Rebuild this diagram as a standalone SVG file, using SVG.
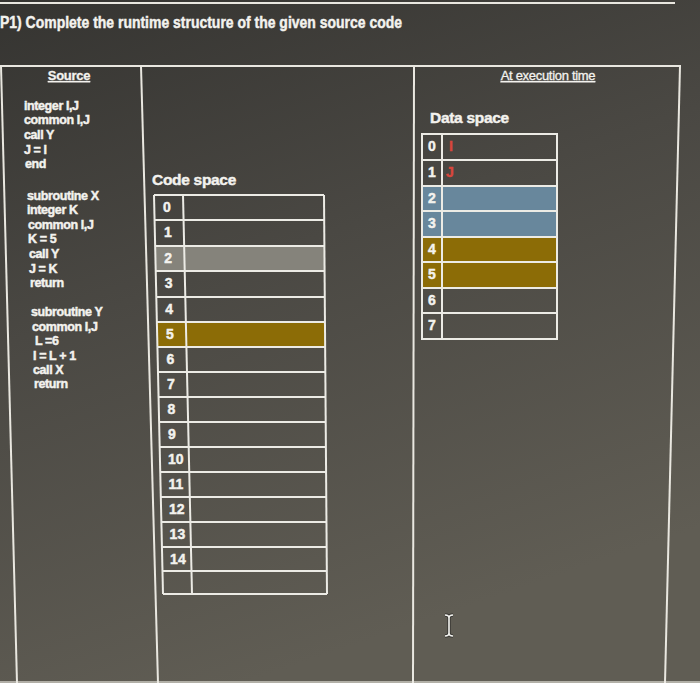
<svg xmlns="http://www.w3.org/2000/svg" width="700" height="683" viewBox="0 0 700 683">
  <defs>
    <linearGradient id="bg" x1="0" y1="0" x2="0.35" y2="1">
      <stop offset="0" stop-color="#353431"/>
      <stop offset="0.45" stop-color="#4a4843"/>
      <stop offset="1" stop-color="#605d54"/>
    </linearGradient>
    <style>
      .ln { stroke:#e9e7e0; stroke-width:2; fill:none; }
      .tl { stroke:#ecebe5; stroke-width:2; fill:none; }
      .t { font-family:"Liberation Sans", Arial, sans-serif; fill:#f3f2ee; stroke:#f3f2ee; stroke-width:0.45px; }
      .src { font-size:12.5px; font-weight:bold; letter-spacing:-0.4px; }
      .num { font-size:14px; font-weight:bold; }
      .hd { font-size:15.5px; font-weight:bold; letter-spacing:-0.3px; }
      .ul { font-size:13px; text-decoration:underline; stroke-width:0.3px; }
      .red { fill:#d8463c; stroke:#d8463c; font-size:14px; font-weight:bold; }
    </style>
  </defs>

  <rect width="700" height="683" fill="url(#bg)"/>

  <g id="title">
    <line class="ln" x1="0" y1="3" x2="675" y2="3"/>
    <text class="t" x="0" y="28" font-size="16.5" font-weight="bold" textLength="402" lengthAdjust="spacingAndGlyphs">P1) Complete the runtime structure of the given source code</text>
  </g>

  <g id="frame">
    <line class="ln" x1="0" y1="66" x2="681" y2="66"/>
    <line class="ln" x1="1" y1="66" x2="17" y2="683"/>
    <line class="ln" x1="141" y1="66" x2="158" y2="683"/>
    <line class="ln" x1="414" y1="66" x2="413" y2="683"/>
    <line class="ln" x1="680" y1="66" x2="665" y2="683"/>
    <line class="ln" x1="0" y1="682" x2="700" y2="682" stroke-opacity="0.6"/>
  </g>

  <g id="source">
    <text class="t ul" x="69" y="80" text-anchor="middle" font-weight="bold" font-size="12.5" letter-spacing="-0.3">Source</text>
    <g class="t src">
      <text x="24" y="110">integer I,J</text>
      <text x="24" y="124">common I,J</text>
      <text x="24" y="139">call Y</text>
      <text x="24" y="154">J = I</text>
      <text x="25" y="168">end</text>
      <text x="27" y="200">subroutine X</text>
      <text x="27" y="214">integer  K</text>
      <text x="28" y="229">common I,J</text>
      <text x="28" y="243">K = 5</text>
      <text x="29" y="258">call Y</text>
      <text x="29" y="273">J =  K</text>
      <text x="30" y="287">return</text>
      <text x="31" y="316">subroutine Y</text>
      <text x="32" y="331">common I,J</text>
      <text x="35" y="345">L  =6</text>
      <text x="33" y="360">I = L + 1</text>
      <text x="33" y="374">call X</text>
      <text x="34" y="388">return</text>
    </g>
  </g>

  <g id="code-space">
    <text class="t hd" x="152" y="185">Code space</text>
    <polygon points="155.2,246 324.4,246 324.6,271 155.7,271" fill="#85837b"/>
    <polygon points="156.9,322 325,322 325.1,347 157.4,347" fill="#8c6c06"/>
    <g class="tl">
      <line x1="154" y1="195" x2="163" y2="594"/>
      <line x1="183" y1="195" x2="192" y2="594"/>
      <line x1="324" y1="195" x2="327" y2="594"/>
      <line x1="154" y1="195" x2="324" y2="195"/>
      <line x1="154.6" y1="220" x2="324.2" y2="220"/>
      <line x1="155.2" y1="246" x2="324.4" y2="246"/>
      <line x1="155.7" y1="271" x2="324.6" y2="271"/>
      <line x1="156.3" y1="297" x2="324.8" y2="297"/>
      <line x1="156.9" y1="322" x2="325" y2="322"/>
      <line x1="157.4" y1="347" x2="325.1" y2="347"/>
      <line x1="158" y1="372" x2="325.3" y2="372"/>
      <line x1="158.6" y1="397" x2="325.5" y2="397"/>
      <line x1="159.1" y1="422" x2="325.7" y2="422"/>
      <line x1="159.7" y1="447" x2="325.9" y2="447"/>
      <line x1="160.2" y1="472" x2="326.1" y2="472"/>
      <line x1="160.8" y1="497" x2="326.3" y2="497"/>
      <line x1="161.4" y1="522" x2="326.5" y2="522"/>
      <line x1="161.9" y1="547" x2="326.6" y2="547"/>
      <line x1="162.5" y1="571" x2="326.8" y2="571"/>
      <line x1="163" y1="594" x2="327" y2="594"/>
    </g>
    <g class="t num">
      <text x="163" y="212">0</text>
      <text x="164" y="237">1</text>
      <text x="164.2" y="263">2</text>
      <text x="164.7" y="288">3</text>
      <text x="165.3" y="314">4</text>
      <text x="165.9" y="339">5</text>
      <text x="166.4" y="364">6</text>
      <text x="167" y="389">7</text>
      <text x="167.6" y="414">8</text>
      <text x="168.1" y="439">9</text>
      <text x="168" y="464">10</text>
      <text x="168.5" y="489">11</text>
      <text x="169" y="514">12</text>
      <text x="169.6" y="539">13</text>
      <text x="170.1" y="564">14</text>
    </g>
  </g>

  <g id="execution">
    <text class="t ul" x="548" y="80" text-anchor="middle" letter-spacing="-0.3">At execution time</text>
  </g>

  <g id="data-space">
    <text class="t hd" x="430" y="123">Data space</text>
    <rect x="422" y="186" width="135" height="51" fill="#68879c"/>
    <rect x="422" y="237" width="135" height="51" fill="#8c6c06"/>
    <g class="tl">
      <rect x="422" y="134" width="135" height="205"/>
      <line x1="442" y1="134" x2="442" y2="339"/>
      <line x1="422" y1="160" x2="557" y2="160"/>
      <line x1="422" y1="186" x2="557" y2="186"/>
      <line x1="422" y1="211" x2="557" y2="211"/>
      <line x1="422" y1="237" x2="557" y2="237"/>
      <line x1="422" y1="262" x2="557" y2="262"/>
      <line x1="422" y1="288" x2="557" y2="288"/>
      <line x1="422" y1="313" x2="557" y2="313"/>
    </g>
    <g class="t num">
      <text x="428" y="151">0</text>
      <text x="428" y="177">1</text>
      <text x="428" y="203">2</text>
      <text x="428" y="228">3</text>
      <text x="428" y="254">4</text>
      <text x="428" y="279">5</text>
      <text x="428" y="305">6</text>
      <text x="428" y="330">7</text>
    </g>
    <text class="t red" x="449" y="151">I</text>
    <text class="t red" x="446" y="177">J</text>
  </g>

  <g id="connectors"></g>

  <g id="cursor">
    <path d="M445,615 Q449,615 449,618 Q449,615 453,615 M449,618 L449,633 M445,636 Q449,636 449,633 Q449,636 453,636" stroke="#3a3935" stroke-width="3.5" fill="none"/>
    <path d="M445,615 Q449,615 449,618 Q449,615 453,615 M449,618 L449,633 M445,636 Q449,636 449,633 Q449,636 453,636" stroke="#f4f4f0" stroke-width="1.6" fill="none"/>
  </g>
</svg>
